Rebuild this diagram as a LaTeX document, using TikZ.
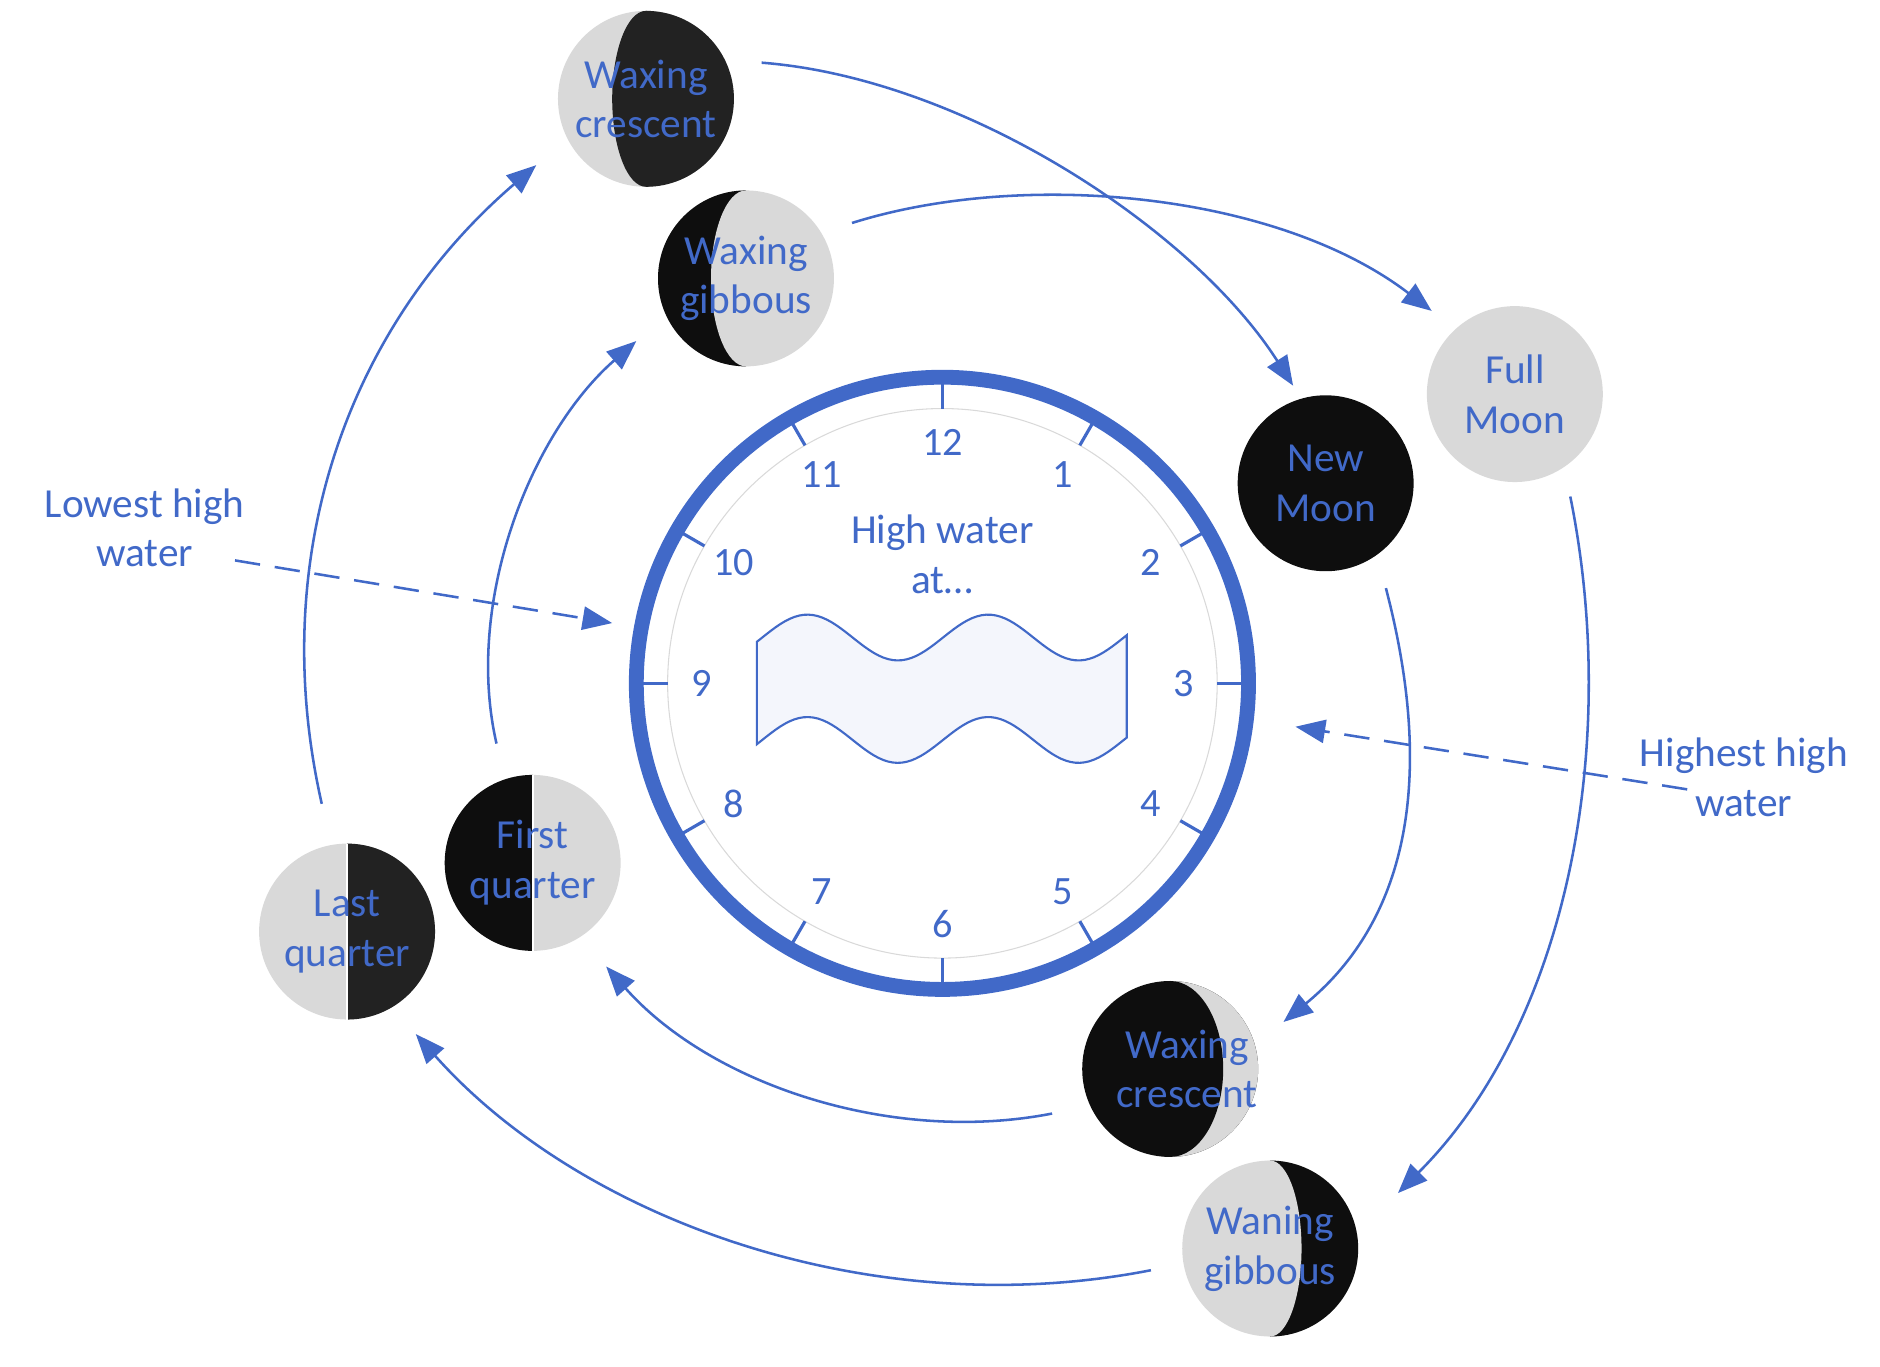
\documentclass[tikz,border=0pt]{standalone}
\usepackage{fontspec}
\setmainfont{Carlito}
\usetikzlibrary{arrows.meta}
\definecolor{bl}{HTML}{4169C8}
\definecolor{mg}{HTML}{D9D9D9}
\definecolor{md}{HTML}{222222}
\definecolor{mk}{HTML}{0E0E0E}
\begin{document}
\begin{tikzpicture}[x=0.02cm,y=-0.02cm,
  lab/.style={text=bl,font=\fontsize{19.5}{23.5}\selectfont,align=center},
  num/.style={text=bl,font=\fontsize{19}{22}\selectfont},
  arr/.style={bl,line width=1.2pt,-{Triangle[length=14pt,width=11pt]}},
  dar/.style={arr,dash pattern=on 12pt off 7pt},
  moon/.style={circle,minimum size=2.92cm,inner sep=0}]
\useasboundingbox (0,0) rectangle (1560,1134);
% clock
\draw[mg,line width=0.5pt] (782,567) circle[radius=228];
\draw[bl,line width=7pt] (782,567) circle[radius=254];
\foreach \h in {1,...,12}{
  \draw[bl,line width=1.5pt] ({782+228*sin(30*\h)},{567-228*cos(30*\h)}) -- ({782+254*sin(30*\h)},{567-254*cos(30*\h)});
  \node[num] (n\h) at ({782+200*sin(30*\h)},{567-200*cos(30*\h)}) {\h};}
\node[lab] (hw) at (782,460) {High water\\at\dots};
% wave
\fill[bl!6] plot[domain=628:935,samples=80] (\x,{529-19*cos(2.4*(\x-670))}) -- plot[domain=935:628,samples=80] (\x,{614-19*cos(2.4*(\x-670))}) -- cycle;
\draw[bl,line width=1pt] plot[domain=628:935,samples=80] (\x,{529-19*cos(2.4*(\x-670))}) -- plot[domain=935:628,samples=80] (\x,{614-19*cos(2.4*(\x-670))}) -- cycle;
% moons
\def\R{73}
\fill[mg] (536,82) circle[radius=\R];
\begin{scope}\clip (536,82) circle[radius=\R];
\fill[md] (536,0) rectangle (620,170); \fill[md] (536,82) ellipse[x radius=28,y radius=\R];\end{scope}
\fill[mg] (619,231) circle[radius=\R];
\begin{scope}\clip (619,231) circle[radius=\R];
\fill[mk] (540,150) rectangle (619,310); \fill[mg] (619,231) ellipse[x radius=29,y radius=\R];\end{scope}
\fill[mk] (1100,401) circle[radius=\R];
\fill[mg] (1257,327) circle[radius=\R];
\fill[mg] (288,773) circle[radius=\R];
\begin{scope}\clip (288,773) circle[radius=\R];\fill[md] (288,690) rectangle (370,860);\end{scope}
\draw[white,line width=1pt] (288,700) -- (288,846);
\fill[mg] (442,716) circle[radius=\R];
\begin{scope}\clip (442,716) circle[radius=\R];\fill[mk] (360,630) rectangle (442,800);\end{scope}
\draw[white,line width=1pt] (442,643) -- (442,789);
\fill[mk] (971,887) circle[radius=\R];
\begin{scope}\clip (971,887) circle[radius=\R];
\fill[mg] (971,800) rectangle (1050,970); \fill[mk] (971,887) ellipse[x radius=44,y radius=\R];\end{scope}
\fill[mg] (1054,1036) circle[radius=\R];
\begin{scope}\clip (1054,1036) circle[radius=\R];
\fill[mk] (1054,950) rectangle (1130,1120); \fill[mg] (1054,1036) ellipse[x radius=26,y radius=\R];\end{scope}
% labels
\node[moon,lab] (wc1) at (536,82) {Waxing\\crescent};
\node[moon,lab] (wg) at (619,231) {Waxing\\gibbous};
\node[moon,lab] (nm) at (1100,401) {New\\Moon};
\node[moon,lab] (fm) at (1257,327) {Full\\Moon};
\node[moon,lab] (lq) at (288,773) {Last\\quarter};
\node[moon,lab] (fq) at (442,716) {First\\quarter};
\node[moon,lab] (wc2) at (985,887) {Waxing\\crescent};
\node[moon,lab] (wng) at (1054,1036) {Waning\\gibbous};
\node[lab] (low) at (120,438) {Lowest high\\water};
\node[lab] (high) at (1447,645) {Highest high\\water};
% arrow endpoints
\coordinate (a1) at (632,52); \coordinate (b1) at (1073,320);
\coordinate (a2) at (707,185); \coordinate (b2) at (1188,258);
\coordinate (a3) at (1303,412); \coordinate (b3) at (1160,990);
\coordinate (a4) at (1150,488); \coordinate (b4) at (1065,848);
\coordinate (a5) at (873,924); \coordinate (b5) at (503,802);
\coordinate (a6) at (955,1054); \coordinate (b6) at (345,858);
\coordinate (a7) at (412,617); \coordinate (b7) at (528,283);
\coordinate (a8) at (267,667); \coordinate (b8) at (445,137);
\coordinate (a9) at (195,465); \coordinate (b9) at (508,517);
\coordinate (a10) at (1400,655); \coordinate (b10) at (1075,603);
\draw[arr] (a1) .. controls (800,65) and (990,190) .. (b1);
\draw[arr] (a2) .. controls (850,140) and (1060,160) .. (b2);
\draw[arr] (a3) .. controls (1345,620) and (1300,850) .. (b3);
\draw[arr] (a4) .. controls (1195,660) and (1160,770) .. (b4);
\draw[arr] (a5) .. controls (740,950) and (590,900) .. (b5);
\draw[arr] (a6) .. controls (720,1100) and (480,1010) .. (b6);
\draw[arr] (a7) .. controls (385,500) and (440,360) .. (b7);
\draw[arr] (a8) .. controls (220,460) and (290,270) .. (b8);
\draw[dar] (a9) -- (b9);
\draw[dar] (a10) -- (b10);
\end{tikzpicture}
\end{document}
